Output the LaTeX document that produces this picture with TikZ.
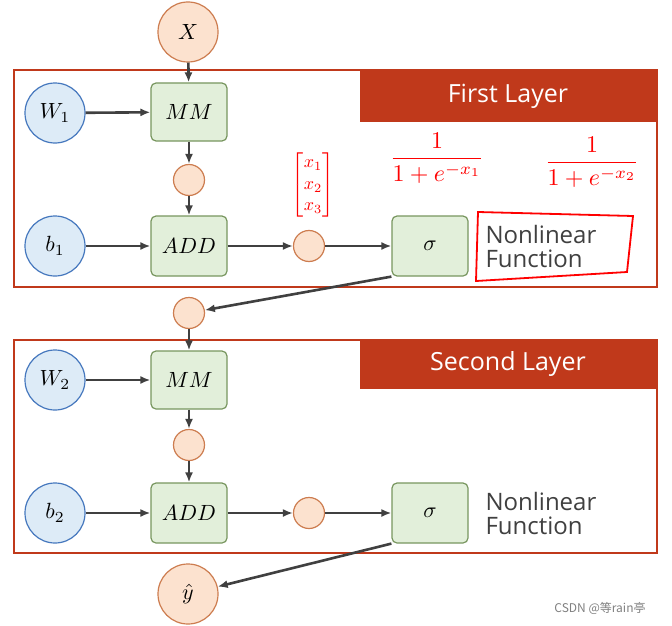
\documentclass[tikz,border=0pt]{standalone}
\usepackage{amsmath}
\usepackage{graphicx}
\usepackage{fontspec}
\setmainfont{Open Sans}
\newfontfamily\cjk{Noto Sans CJK SC}
\usetikzlibrary{arrows.meta}
\newcommand{\mymth}[2][2.2]{\scalebox{#1}{$#2$}}
\begin{document}
\begin{tikzpicture}[x=1pt,y=-1pt,
 lay/.style={draw=layred,line width=2.6pt},
 bar/.style={fill=layred,draw=none},
 bart/.style={text=white,font=\fontsize{25}{30}\selectfont},
 big/.style={circle,draw=orbd,fill=orfill,line width=1.2pt,minimum size=60pt,inner sep=0pt},
 sm/.style={circle,draw=orbd,fill=orfill,line width=1.2pt,minimum size=31pt,inner sep=0pt},
 par/.style={circle,draw=blbd,fill=blfill,line width=1.2pt,minimum size=60pt,inner sep=0pt},
 op/.style={rectangle,rounded corners=5pt,draw=grbd,fill=grfill,line width=1.2pt,minimum width=76pt,inner sep=0pt},
 arr/.style={-{Latex[length=10pt,width=8pt]},line width=2.6pt,draw=arrc},
 lbl/.style={anchor=west,align=left,text=txt,font=\fontsize{24}{29}\selectfont},
 hand/.style={text=red}]
\definecolor{layred}{RGB}{192,57,27}
\definecolor{orbd}{RGB}{205,125,80}
\definecolor{orfill}{RGB}{252,226,207}
\definecolor{blbd}{RGB}{70,120,190}
\definecolor{blfill}{RGB}{221,235,247}
\definecolor{grbd}{RGB}{120,150,95}
\definecolor{grfill}{RGB}{226,239,218}
\definecolor{arrc}{RGB}{64,64,64}
\definecolor{txt}{RGB}{64,64,64}
\useasboundingbox (0,0) rectangle (672,626);
\fill[white] (0,0) rectangle (672,626);
% layer 1
\draw[lay] (14,70) rectangle (657,287);
\fill[bar] (360,70) rectangle (657,122);
\node[bart] (t1) at (508,96) {First Layer};
\node[big] (X) at (188,32) {\mymth{X}};
\node[par] (W1) at (55,113) {\mymth{W_1}};
\node[op,minimum height=58pt] (MM1) at (189,112) {\mymth{MM}};
\node[sm] (c1) at (189,180) {};
\node[par] (b1) at (55,246) {\mymth{b_1}};
\node[op,minimum height=60pt] (ADD1) at (189,246) {\mymth{ADD}};
\node[sm] (c2) at (309,246) {};
\node[op,minimum height=60pt] (s1) at (430,246) {\mymth{\sigma}};
\node[lbl] (n1) at (482,246) {Nonlinear\\[-5pt]Function};
\draw[red,line width=1.8pt] (478,212) -- (633,216) -- (627,272) -- (476,281) -- cycle;
\node[hand] (h1) at (313,185) {\mymth[1.8]{\begin{bmatrix}x_1\\x_2\\x_3\end{bmatrix}}};
\node[hand] (h2) at (437,158) {\mymth[2.4]{\dfrac{1}{1+e^{-x_1}}}};
\node[hand] (h3) at (592,162) {\mymth[2.4]{\dfrac{1}{1+e^{-x_2}}}};
\draw[arr] (X) -- (MM1);
\draw[arr] (W1) -- (MM1);
\draw[arr] (MM1) -- (c1);
\draw[arr] (c1) -- (ADD1);
\draw[arr] (b1) -- (ADD1);
\draw[arr] (ADD1) -- (c2);
\draw[arr] (c2) -- (s1);
\node[sm] (c3) at (189,313) {};
\draw[arr] (s1.south west) -- (c3);
% layer 2
\draw[lay] (14,340) rectangle (657,553);
\fill[bar] (360,340) rectangle (657,389);
\node[bart] (t2) at (508,364) {Second Layer};
\node[par] (W2) at (55,380) {\mymth{W_2}};
\node[op,minimum height=58pt] (MM2) at (189,380) {\mymth{MM}};
\node[sm] (c4) at (189,445) {};
\node[par] (b2) at (55,513) {\mymth{b_2}};
\node[op,minimum height=60pt] (ADD2) at (189,513) {\mymth{ADD}};
\node[sm] (c5) at (309,513) {};
\node[op,minimum height=60pt] (s2) at (430,513) {\mymth{\sigma}};
\node[lbl] (n2) at (482,513) {Nonlinear\\[-5pt]Function};
\draw[arr] (c3) -- (MM2);
\draw[arr] (W2) -- (MM2);
\draw[arr] (MM2) -- (c4);
\draw[arr] (c4) -- (ADD2);
\draw[arr] (b2) -- (ADD2);
\draw[arr] (ADD2) -- (c5);
\draw[arr] (c5) -- (s2);
\node[big] (y) at (188,594) {\mymth{\hat{y}}};
\draw[arr] (s2.south west) -- (y);
\node[text=gray,font=\cjk\fontsize{12}{14}\selectfont] (wm) at (600,608) {CSDN @等rain亭};
\end{tikzpicture}
\end{document}
